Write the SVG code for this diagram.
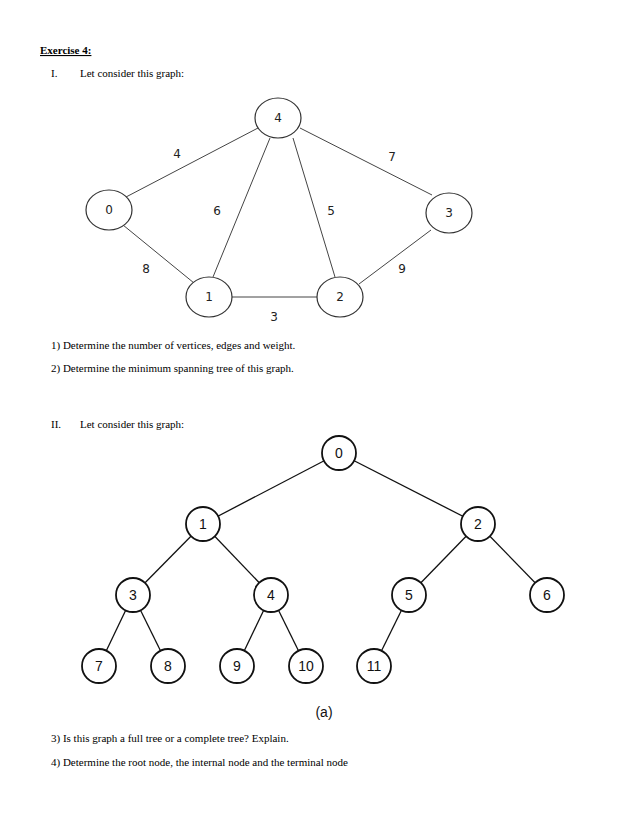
<svg xmlns="http://www.w3.org/2000/svg" width="621" height="824" viewBox="0 0 621 824">
<style>
.t{font-family:"Liberation Serif",serif;font-size:11px;fill:#000}
.g{stroke:#444;stroke-width:1;fill:none}
.gn{fill:#fff;stroke:#333;stroke-width:1.2}
.gl{font-family:"DejaVu Sans",sans-serif;font-size:12px;fill:#222;text-anchor:middle}
.tr{stroke:#111;stroke-width:1.3;fill:none}
.tn{fill:#fff;stroke:#111;stroke-width:1.8}
.tl{font-family:"Liberation Sans",sans-serif;font-size:14px;fill:#111;text-anchor:middle}
</style>
<rect width="621" height="824" fill="#fff"/>
<text class="t" x="40" y="54" font-weight="bold" text-decoration="underline">Exercise 4:</text>
<text class="t" x="51" y="77">I.</text><text class="t" x="80" y="77">Let consider this graph:</text>
<g id="edges1" class="g">
<line x1="126" y1="197" x2="258" y2="128"/>
<line x1="270" y1="138" x2="213" y2="277"/>
<line x1="293" y1="138" x2="335" y2="277"/>
<line x1="300" y1="128" x2="432" y2="195"/>
<line x1="123" y1="225" x2="194" y2="283"/>
<line x1="232" y1="297" x2="317" y2="297"/>
<line x1="359" y1="284" x2="431" y2="230"/>
</g>
<g id="elabels1" class="gl">
<text x="177" y="158">4</text><text x="217" y="215">6</text><text x="331" y="215">5</text>
<text x="392" y="161">7</text><text x="146" y="273">8</text><text x="402" y="273">9</text><text x="274" y="321">3</text>
</g>
<g id="g1n4"><ellipse class="gn" cx="278" cy="118" rx="23" ry="20"/><text class="gl" x="278" y="122">4</text></g>
<g id="g1n0"><ellipse class="gn" cx="109" cy="210" rx="23" ry="20"/><text class="gl" x="109" y="214">0</text></g>
<g id="g1n3"><ellipse class="gn" cx="449" cy="213" rx="23" ry="20"/><text class="gl" x="449" y="217">3</text></g>
<g id="g1n1"><ellipse class="gn" cx="209" cy="297" rx="23" ry="20"/><text class="gl" x="209" y="301">1</text></g>
<g id="g1n2"><ellipse class="gn" cx="340" cy="297" rx="23" ry="20"/><text class="gl" x="340" y="301">2</text></g>
<text class="t" x="51" y="349">1)  Determine the number of vertices, edges and weight.</text>
<text class="t" x="51" y="372">2)  Determine the minimum spanning tree of this graph.</text>
<text class="t" x="51" y="428">II.</text><text class="t" x="80" y="428">Let consider this graph:</text>
<g id="edges2" class="tr">
<line x1="339" y1="453" x2="203" y2="524"/><line x1="339" y1="453" x2="478" y2="524"/>
<line x1="203" y1="524" x2="133" y2="595"/><line x1="203" y1="524" x2="271" y2="595"/>
<line x1="478" y1="524" x2="409" y2="595"/><line x1="478" y1="524" x2="547" y2="595"/>
<line x1="133" y1="595" x2="99" y2="666"/><line x1="133" y1="595" x2="168" y2="666"/>
<line x1="271" y1="595" x2="237" y2="666"/><line x1="271" y1="595" x2="306" y2="666"/>
<line x1="409" y1="595" x2="374" y2="666"/>
</g>
<g id="t0"><circle class="tn" cx="339" cy="453" r="17"/><text class="tl" x="339" y="458">0</text></g>
<g id="t1"><circle class="tn" cx="203" cy="524" r="17"/><text class="tl" x="203" y="529">1</text></g>
<g id="t2"><circle class="tn" cx="478" cy="524" r="17"/><text class="tl" x="478" y="529">2</text></g>
<g id="t3"><circle class="tn" cx="133" cy="595" r="17"/><text class="tl" x="133" y="600">3</text></g>
<g id="t4"><circle class="tn" cx="271" cy="595" r="17"/><text class="tl" x="271" y="600">4</text></g>
<g id="t5"><circle class="tn" cx="409" cy="595" r="17"/><text class="tl" x="409" y="600">5</text></g>
<g id="t6"><circle class="tn" cx="547" cy="595" r="17"/><text class="tl" x="547" y="600">6</text></g>
<g id="t7"><circle class="tn" cx="99" cy="666" r="17"/><text class="tl" x="99" y="671">7</text></g>
<g id="t8"><circle class="tn" cx="168" cy="666" r="17"/><text class="tl" x="168" y="671">8</text></g>
<g id="t9"><circle class="tn" cx="237" cy="666" r="17"/><text class="tl" x="237" y="671">9</text></g>
<g id="t10"><circle class="tn" cx="306" cy="666" r="17"/><text class="tl" x="306" y="671">10</text></g>
<g id="t11"><circle class="tn" cx="374" cy="666" r="17"/><text class="tl" x="374" y="671">11</text></g>
<text class="tl" x="324" y="717">(a)</text>
<text class="t" x="51" y="742">3)  Is this graph a full tree or a complete tree? Explain.</text>
<text class="t" x="51" y="766">4)  Determine the root node, the internal node and the terminal node</text>
</svg>
